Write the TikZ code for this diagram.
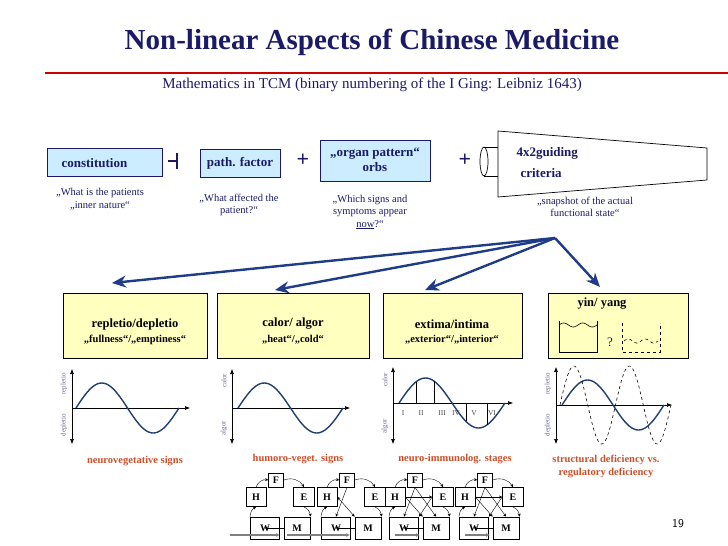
\documentclass[tikz,border=0pt]{standalone}
\usepackage{fontspec}
\setmainfont{Liberation Serif}
\usetikzlibrary{arrows.meta}
\definecolor{navy}{HTML}{1A1A66}
\definecolor{bluefill}{HTML}{CCECFF}
\definecolor{yel}{HTML}{FFFFC0}
\definecolor{orng}{HTML}{C8502A}
\definecolor{axlab}{HTML}{6A6A9A}
\definecolor{wave}{HTML}{1F3F6F}
\definecolor{bigarr}{HTML}{1F3C88}
\tikzset{
 bbox/.style={draw=navy,fill=bluefill,line width=0.8pt},
 ybox/.style={draw=black,fill=yel,line width=0.8pt},
 btxt/.style={font=\fontsize{13}{15}\selectfont\bfseries,text=navy},
 qtxt/.style={font=\fontsize{10.5}{12.5}\selectfont,text=navy,align=center},
 ytxt/.style={font=\fontsize{12.5}{14}\selectfont\bfseries,text=black},
 ysub/.style={font=\fontsize{10.5}{12}\selectfont\bfseries,text=black},
 otxt/.style={font=\fontsize{10.5}{13}\selectfont\bfseries,text=orng,align=center},
 axl/.style={font=\fontsize{7}{8}\selectfont,text=axlab,rotate=90},
 axis/.style={line width=0.6pt,-{Latex[length=5pt,width=4pt]}},
 daxis/.style={line width=0.6pt,{Latex[length=5pt,width=4pt]}-{Latex[length=5pt,width=4pt]}},
 sine/.style={wave,line width=1.4pt},
 big/.style={bigarr,line width=2.4pt,-{Stealth[length=14pt,width=12pt]}},
 el/.style={draw=black,line width=0.8pt,fill=white,font=\fontsize{10}{10}\selectfont\bfseries,inner sep=0pt},
 ea/.style={line width=0.4pt,-{Stealth[length=3pt,width=3pt]}},
 eab/.style={line width=0.4pt,{Stealth[length=3pt,width=3pt]}-{Stealth[length=3pt,width=3pt]}},
 garr/.style={gray,line width=1.2pt,-{Latex[length=4pt,width=4pt]}},
}
\begin{document}
\begin{tikzpicture}[x=1pt,y=-1pt]
\useasboundingbox (0,0) rectangle (728,546);
% title
\node[font=\fontsize{29}{32}\selectfont\bfseries,text=navy] (title) at (372,42) {Non-linear Aspects of Chinese Medicine};
\draw[red!80!black,line width=1.2pt] (45,73) -- (728,73);
\node[font=\fontsize{15}{17}\selectfont,text=navy] (sub) at (372,85) {Mathematics in TCM (binary numbering of the I Ging: Leibniz 1643)};
% top boxes
\draw[bbox] (47,148) rectangle (162,176);
\node[btxt,anchor=west] (const) at (58,163) {constitution};
\draw[navy,line width=1.3pt] (168,161) -- (176,161) (177,153) -- (177,169);
\draw[bbox] (200,149) rectangle (280,177);
\node[btxt] (path) at (240,163) {path. factor};
\node[font=\fontsize{22}{22}\selectfont\bfseries,text=navy] (p2) at (303,160) {+};
\draw[bbox] (320,140) rectangle (430,181);
\node[btxt,align=center] (organ) at (375,160) {„organ pattern“\\orbs};
\node[font=\fontsize{22}{22}\selectfont\bfseries,text=navy] (p3) at (465,160) {+};
% cylinder + trapezoid
\draw[line width=0.7pt] (484,147) -- (498,147) (484,176) -- (498,176);
\draw[line width=0.7pt] (484,161.5) ellipse (4 and 14.5);
\draw[line width=0.7pt,fill=white] (498,131) -- (707,148) -- (707,180) -- (498,197) -- cycle;
\node[btxt,anchor=west] (g1) at (513,153) {4x2guiding};
\node[btxt,anchor=west] (g2) at (517,173) {criteria};
% questions
\node[qtxt] (q1) at (100,199) {„What is the patients\\„inner nature“};
\node[qtxt] (q2) at (239,205) {„What affected  the\\patient?“};
\node[qtxt] (q3) at (370,212) {„Which signs and\\symptoms appear\\\underline{now}?“};
\node[qtxt] (q4) at (585,207) {„snapshot of the actual\\functional state“};
% big arrows
\coordinate (src) at (555,238);
\coordinate (t1) at (112,283);
\coordinate (t2) at (275,290);
\coordinate (t3) at (425,290);
\coordinate (t4) at (600,287);
\draw[big] (src) -- (t1);
\draw[big] (src) -- (t2);
\draw[big] (src) -- (t3);
\draw[big] (src) -- (t4);
% yellow boxes
\draw[ybox] (63,293) rectangle (207,358);
\node[ytxt] (y1) at (135,324) {repletio/depletio};
\node[ysub] (y1s) at (135,340) {„fullness“/„emptiness“};
\draw[ybox] (217,293) rectangle (369,358);
\node[ytxt] (y2) at (293,324) {calor/ algor};
\node[ysub] (y2s) at (293,340) {„heat“/„cold“};
\draw[ybox] (383,293) rectangle (522,358);
\node[ytxt] (y3) at (452,324) {extima/intima};
\node[ysub] (y3s) at (452,340) {„exterior“/„interior“};
\draw[ybox] (548,293) rectangle (688,358);
\node[ytxt] (y4) at (602,304) {yin/ yang};
\draw[line width=0.8pt] (559,321) -- (559,352) -- (597,352) -- (597,321);
\draw[line width=0.6pt] plot[domain=0:720,samples=60] ({559+\x/720*38},{325-2*sin(\x)});
\node[font=\fontsize{13}{13}\selectfont,text=navy] (qm) at (610,342) {?};
\draw[line width=0.6pt,dashed] (622,323) -- (622,352) -- (660,352) -- (660,323);
\draw[line width=0.6pt,dashed] plot[domain=0:720,samples=60] ({624+\x/720*34},{341-2*sin(\x)});
% graph 1
\draw[daxis] (72,369) -- (72,444);
\draw[axis] (72,408) -- (190,408);
\draw[sine] plot[domain=0:360,samples=60] ({76+\x/360*103},{408-25*sin(\x)});
\node[axl] (r1) at (64,384) {repletio};
\node[axl] (d1) at (64,425) {depletio};
% graph 2
\draw[daxis] (232,369) -- (232,444);
\draw[axis] (232,408) -- (350,408);
\draw[sine] plot[domain=0:360,samples=60] ({238+\x/360*105},{408-25*sin(\x)});
\node[axl] (r2) at (224,381) {calor};
\node[axl] (d2) at (224,428) {algor};
% graph 3
\draw[daxis] (393,367) -- (393,444);
\draw[axis] (393,403) -- (513,403);
\draw[sine] plot[domain=0:360,samples=60] ({399+\x/360*106},{403-25*sin(\x)});
\foreach \xx in {416,434,466,487}{
  \draw[line width=0.6pt] (\xx,403) -- (\xx,{403-25*sin((\xx-399)/106*360)});
}
\node[axl] (r3) at (385,380) {calor};
\node[axl] (d3) at (385,426) {algor};
\foreach \lab/\xx in {I/403,II/421,III/442,IV/456,V/474,VI/492}{
  \node[font=\fontsize{7.5}{8}\selectfont,text=black!70] (n\lab) at (\xx,413) {\lab};
}
% graph 4
\draw[daxis] (556,367) -- (556,444);
\draw[axis] (556,405) -- (672,405);
\draw[sine] plot[domain=0:360,samples=60] ({562+\x/360*102},{405-25*sin(\x)});
\draw[dashed,line width=0.6pt] plot[domain=0:720,samples=100] ({560+\x/720*111},{405-39*sin(\x)});
\node[axl] (r4) at (548,384) {repletio};
\node[axl] (d4) at (548,425) {depletio};
% orange labels
\node[otxt] (o1) at (135,461) {neurovegetative signs};
\node[otxt] (o2) at (298,459) {humoro-veget. signs};
\node[otxt] (o3) at (455,459) {neuro-immunolog. stages};
\node[otxt] (o4) at (606,466) {structural deficiency vs.\\regulatory deficiency};
% five-element diagrams
\foreach \o/\k in {0/1,71/2,139/3,209/4}{
  \begin{scope}[xshift=\o]
  \node[el,minimum width=15pt,minimum height=14pt] (F\k) at (276,480) {F};
  \node[el,minimum width=20pt,minimum height=19pt] (H\k) at (256,497) {H};
  \node[el,minimum width=21pt,minimum height=19pt] (E\k) at (304,497) {E};
  \node[el,minimum width=29pt,minimum height=22pt] (W\k) at (265,528) {W};
  \node[el,minimum width=26pt,minimum height=22pt] (M\k) at (297,528) {M};
  \end{scope}
}
\foreach \k in {1,2,3,4}{
  \draw[ea] (H\k.north) to[bend left=40] (F\k.west);
  \draw[ea] (F\k.east) to[bend left=40] (E\k.north);
  \draw[ea] (E\k.south) to[bend left=30] (M\k.north east);
  \draw[ea] (M\k.west) -- (W\k.center);
  \draw[ea] (W\k.north west) to[bend left=30] (H\k.south);
}
% grey arrows under W
\coordinate (g1s) at (230,535); \coordinate (g1e) at (280,535);
\coordinate (g2s) at (287,535); \coordinate (g2e) at (350,535);
\coordinate (g3s) at (395,535); \coordinate (g3e) at (420,535);
\coordinate (g4s) at (465,535); \coordinate (g4e) at (490,535);
\draw[garr] (g1s) -- (g1e);
\draw[garr] (g2s) -- (g2e);
\draw[garr] (g3s) -- (g3e);
\draw[garr] (g4s) -- (g4e);
% extra arrows diagram 2
\draw[ea] (F2.south) -- (W2.north);
\draw[eab] (H2.east) -- (M2.north west);
% star in diagrams 3,4
\foreach \k in {3,4}{
  \draw[ea] (F\k.south) -- (W\k.north);
  \draw[ea] (F\k.south) -- (M\k.north);
  \draw[ea] (H\k.east) -- (E\k.west);
  \draw[ea] (H\k.east) -- (M\k.north west);
  \draw[ea] (E\k.west) -- (W\k.north east);
}
\node[font=\fontsize{12}{12}\selectfont\sffamily] (pg) at (678,524) {19};
\end{tikzpicture}
\end{document}
